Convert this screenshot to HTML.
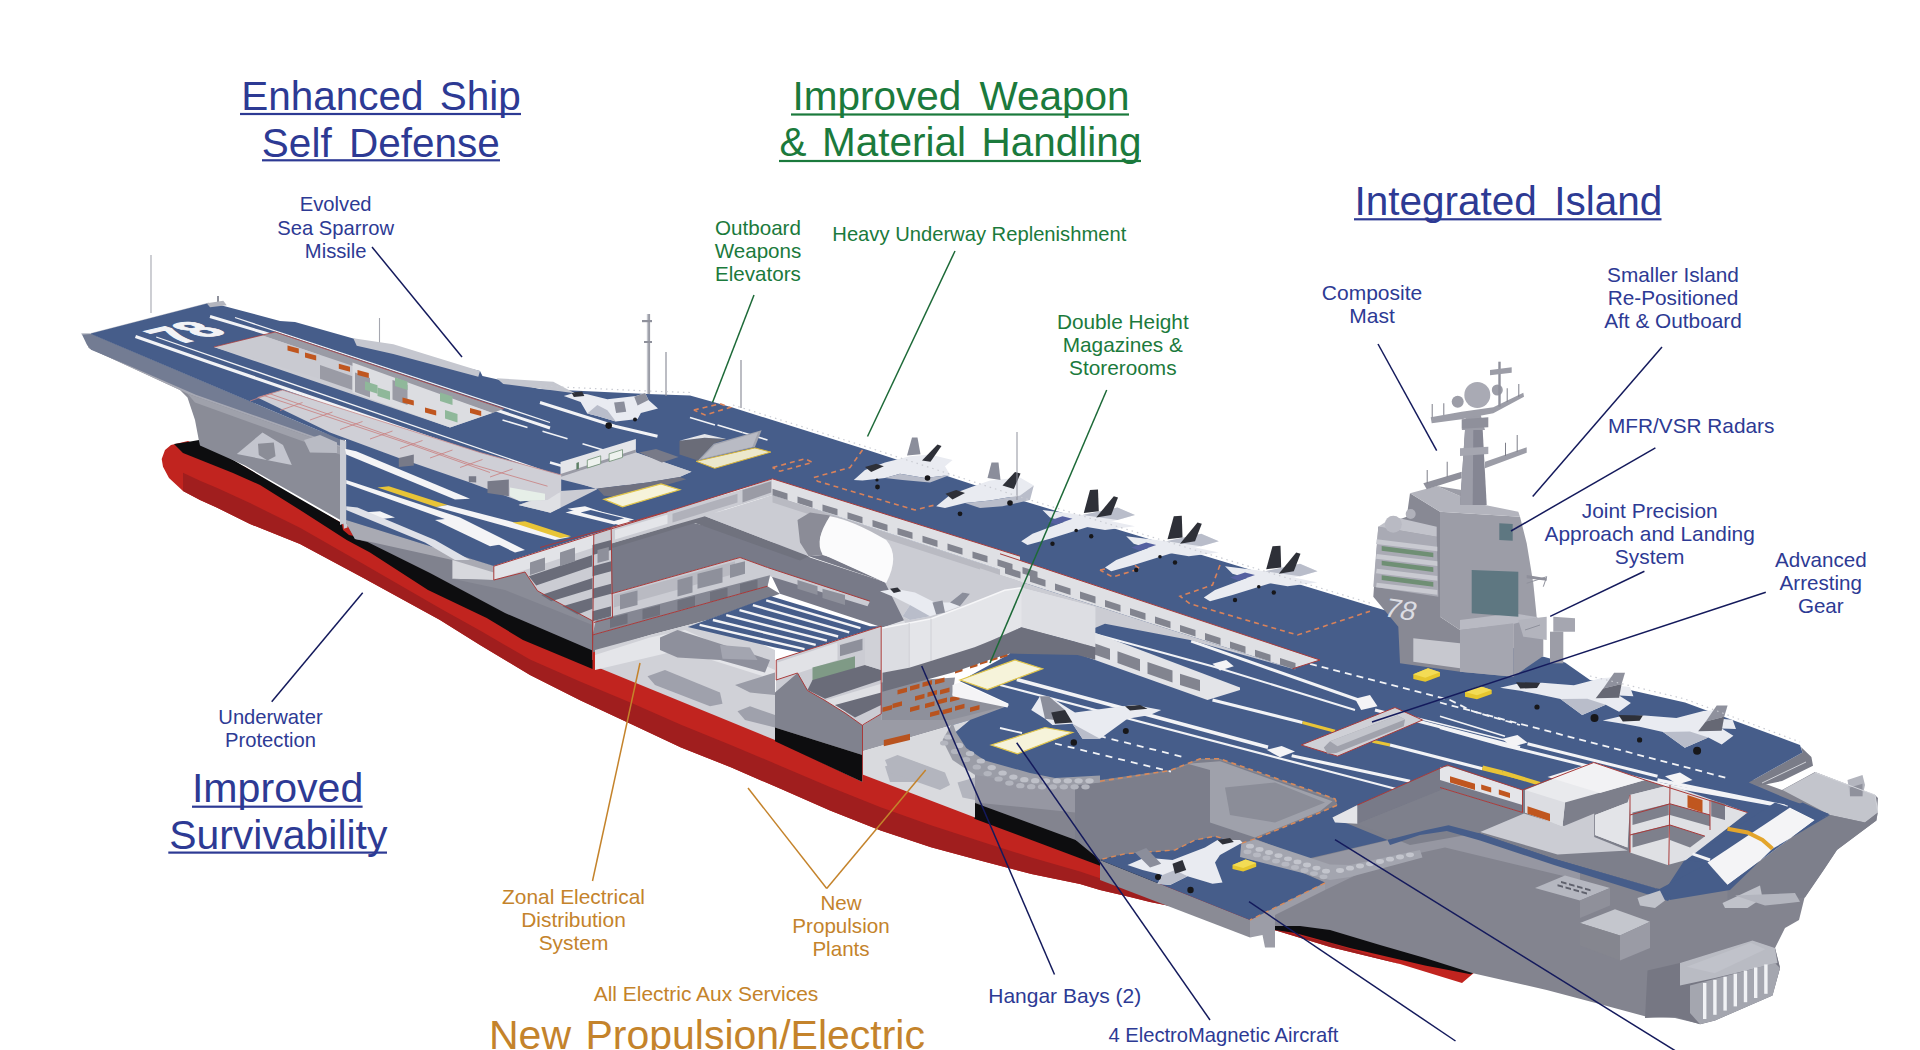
<!DOCTYPE html>
<html lang="en"><head><meta charset="utf-8"><title>CVN 78 Design Features</title>
<style>
html,body{margin:0;padding:0;background:#fff;}
body{width:1920px;height:1050px;overflow:hidden;position:relative;}
svg{display:block;position:absolute;left:0;top:0;}
svg text{font-family:"Liberation Sans",Arial,sans-serif;}
</style></head><body>
<svg width="1920" height="1050" viewBox="0 0 1920 1050">
<rect width="1920" height="1050" fill="#ffffff"/>
<polygon points="171.0,445.0 188.0,441.0 205.0,449.0 245.0,467.0 290.0,495.0 340.0,522.0 400.0,552.0 470.0,588.0 540.0,620.0 595.0,645.0 700.0,690.0 780.0,726.0 862.0,757.0 975.0,800.0 1100.0,850.0 1200.0,885.0 1285.0,922.0 1350.0,942.0 1425.0,958.0 1475.0,972.0 1462.0,983.0 1400.0,964.0 1331.0,947.3 1276.0,930.6 1200.0,912.0 1150.0,902.0 1130.0,897.0 1100.0,890.0 1080.0,884.0 1031.4,874.0 981.0,860.7 931.0,847.3 880.6,830.5 830.0,810.4 780.0,788.6 731.4,767.5 681.0,747.4 631.0,724.0 580.6,700.5 530.0,675.0 480.0,645.0 440.0,620.0 362.5,577.5 300.0,544.0 250.0,524.0 216.7,507.5 200.0,500.0 183.0,491.0 169.0,478.0 163.0,466.7 161.7,459.0 165.0,450.0" fill="#c1241f"/>
<polygon points="183.0,491.0 200.0,500.0 216.7,507.5 250.0,524.0 300.0,544.0 362.5,577.5 440.0,620.0 480.0,645.0 530.0,675.0 580.6,700.5 631.0,724.0 681.0,747.4 731.4,767.5 780.0,788.6 830.0,810.4 880.6,830.5 931.0,847.3 981.0,860.7 1031.4,874.0 1080.0,884.0 1100.0,890.0 1130.0,897.0 1150.0,902.0 1200.0,912.0 1276.0,930.6 1331.0,947.3 1400.0,964.0 1331.0,943.3 1276.0,929.8 1200.0,907.1 1150.0,893.4 1130.0,887.2 1100.0,878.3 1080.0,871.6 1031.4,857.5 981.0,841.4 931.0,825.3 880.6,807.3 830.0,787.0 780.0,765.7 731.4,745.2 681.0,724.8 631.0,702.8 580.6,681.8 530.0,659.6 480.0,630.5 440.0,608.3 362.5,563.6 300.0,527.7 250.0,503.1 216.7,487.8 200.0,480.7 183.0,472.8" fill="#a01e1e"/>
<polygon points="174.0,444.0 187.5,442.0 199.0,440.0 241.7,465.0 300.0,499.0 341.7,523.0 343.0,530.0 349.0,535.0 367.5,539.0 430.0,570.0 505.0,610.0 592.5,648.0 592.5,669.0 565.0,657.5 523.0,640.0 486.7,618.0 428.0,590.0 370.0,552.5 346.7,540.0 300.0,510.0 260.0,485.0 233.0,473.0 208.0,463.0 183.0,453.0" fill="#0d0d0f"/>
<polygon points="773.0,722.0 862.0,757.0 862.0,775.0 773.0,738.0" fill="#0d0d0f"/>
<polygon points="974.4,800.0 1100.0,846.0 1160.0,868.0 1160.0,887.0 1100.0,865.7 974.4,818.8" fill="#0d0d0f"/>
<polygon points="1275.0,922.5 1325.0,925.5 1425.0,957.0 1475.0,972.0 1470.5,974.2 1425.0,965.5 1350.0,948.0 1295.0,933.0 1275.0,930.0" fill="#0d0d0f"/>
<polygon points="85.0,338.8 88.8,348.0 180.0,390.0 187.5,397.5 195.0,420.0 198.8,440.0 200.0,445.5 245.0,465.5 341.2,520.5 345.0,527.5 345.0,440.0 187.5,385.0" fill="#8a8c97"/>
<polygon points="83.0,333.8 85.0,338.8 88.8,348.0 180.0,390.0 187.5,393.8 341.2,448.0 341.2,440.0 187.5,385.0" fill="#a6a8b3"/>
<polygon points="81.5,333.5 91.0,333.5 340.0,439.5 341.0,446.0 195.8,394.8 128.7,365.5 91.0,349.7 86.8,344.5" fill="#737c93"/>
<polyline points="81.5,333.8 91.0,333.5 209.0,303.0" fill="none" stroke="#c9cbd2" stroke-width="1.2"/>
<polygon points="187.5,393.8 341.2,448.0 341.2,455.0 195.0,402.5" fill="#9fa1ab"/>
<polygon points="236.8,454.0 262.5,432.5 283.0,445.0 291.8,465.0" fill="#c3c5ce"/>
<polygon points="304.0,440.0 320.0,435.0 337.0,442.5 337.0,453.0 310.0,452.5" fill="#b9bbc4"/>
<polygon points="258.0,443.8 273.8,442.5 275.5,456.2 267.5,460.5 258.8,455.0" fill="#8b8d97"/>
<polygon points="341.2,440.0 347.5,442.5 347.5,527.5 343.8,528.8" fill="#c9ccd4"/>
<polygon points="346.2,519.5 493.8,565.8 493.8,580.0 525.0,572.0 537.5,590.8 555.0,600.8 592.5,620.8 592.5,650.5 505.0,613.0 430.0,573.0 367.5,542.0 355.0,539.0 346.2,523.0" fill="#80828e"/>
<polygon points="346.2,519.5 493.8,565.8 493.8,580.0 452.5,578.8 452.5,560.0 367.5,541.2 355.0,539.0 346.2,523.0" fill="#a9aab3"/>
<polygon points="452.5,560.0 493.8,572.5 493.8,580.0 452.5,578.8" fill="#d7d8dd"/>
<polygon points="452.5,578.8 493.8,580.0 525.0,572.0 537.5,590.8 555.0,600.8 592.5,620.8 592.5,625.0 505.0,590.0" fill="#8a8c97"/>
<polygon points="975.0,772.0 975.0,803.0 1100.0,849.0 1160.0,871.0 1200.0,886.0 1272.0,926.0 1300.0,926.0 1330.0,930.0 1380.0,945.0 1425.0,958.0 1473.0,973.3 1546.7,990.0 1596.7,1003.3 1646.7,1016.7 1675.0,1018.0 1700.0,1024.0 1715.0,1020.0 1772.0,995.0 1780.0,968.0 1775.0,948.0 1785.0,928.0 1799.0,920.0 1804.5,897.7 1823.4,870.0 1837.0,849.7 1876.5,820.5 1878.0,798.0 1875.0,795.0 1815.0,772.0 1782.0,790.0 1700.0,760.0 1400.0,700.0 1100.0,720.0" fill="#83848f"/>
<polygon points="975.0,772.5 1100.0,782.5 1170.0,771.2 1200.0,760.0 1220.0,760.0 1335.0,800.0 1337.5,805.5 1320.0,813.0 1255.0,839.2 1307.5,859.5 1387.5,840.5 1445.0,827.0 1580.0,860.0 1580.0,880.0 1445.0,847.5 1387.5,860.0 1325.0,890.0 1325.0,882.5 1250.0,850.0 1100.0,815.0 975.0,802.5" fill="#9697a2"/>
<polygon points="1782.5,790.0 1815.0,772.5 1875.0,795.0 1878.0,812.5 1865.0,822.5 1830.0,815.0" fill="#c3c5cc"/>
<polygon points="1801.0,747.0 1811.4,757.0 1813.0,765.7 1782.0,781.0 1758.0,786.0 1748.8,782.5 1802.5,752.5" fill="#7a7c88"/>
<polyline points="1806.0,762.0 1762.0,783.0" fill="none" stroke="#d0d2d8" stroke-width="1"/>
<polygon points="1830.0,815.0 1865.0,822.5 1878.0,812.5 1876.2,820.5 1837.0,850.0 1823.8,870.0 1805.0,897.5 1727.5,905.0 1727.5,887.5 1772.5,848.8" fill="#7d7f8b"/>
<polygon points="1647.5,970.5 1680.0,963.0 1752.5,940.5 1775.0,948.0 1780.0,968.0 1772.5,995.5 1715.0,1020.5 1700.0,1024.2 1675.0,1016.8 1645.0,1018.0" fill="#767783"/>
<polygon points="1680.0,963.0 1752.5,940.5 1775.0,948.0 1777.5,963.0 1715.0,978.0 1680.0,985.5" fill="#b9bbc3"/>
<polygon points="1690.0,985.5 1775.0,963.0 1780.0,968.0 1772.5,995.5 1715.0,1020.5 1700.0,1024.2 1690.0,1013.0" fill="#a4a6af"/>
<polygon points="1535.0,888.0 1565.0,875.5 1610.0,888.0 1580.0,900.5" fill="#b5b7c0"/>
<polygon points="1580.0,900.5 1610.0,888.0 1610.0,905.5 1580.0,918.0" fill="#8f909a"/>
<polygon points="1580.0,923.0 1615.0,909.2 1650.0,921.8 1620.0,935.5" fill="#c4c6cd"/>
<polygon points="1620.0,935.5 1650.0,921.8 1650.0,948.0 1620.0,960.5" fill="#9a9ba5"/>
<polygon points="1580.0,923.0 1620.0,935.5 1620.0,960.5 1580.0,945.5" fill="#85868f"/>
<polygon points="1100.0,860.0 1250.0,920.0 1250.0,937.5 1100.0,880.0" fill="#8a8b95"/>
<polygon points="1250.0,920.0 1325.0,882.5 1325.0,890.0 1275.0,915.0 1275.0,947.5 1265.0,947.5 1262.5,935.0 1250.0,937.5" fill="#9c9da7"/>
<polygon points="1100.0,860.0 1125.0,853.8 1175.0,850.0 1195.0,840.0 1215.0,836.2 1240.0,843.8 1250.0,850.0 1325.0,882.5 1250.0,920.0" fill="#465d8a"/>
<polygon points="1100.0,782.5 1170.0,771.2 1200.0,760.0 1220.0,760.0 1335.0,800.0 1337.5,805.5 1320.0,813.0 1255.0,839.2 1240.0,843.8 1215.0,836.2 1195.0,840.0 1175.0,850.0 1125.0,853.8 1100.0,860.0 1075.0,839.5 1075.0,785.0" fill="#7c7e8b"/>
<polygon points="1187.5,763.8 1220.0,761.2 1332.5,801.2 1320.0,811.2 1255.0,837.5 1210.0,822.5 1210.0,770.0" fill="#9fa1ab"/>
<polygon points="1225.0,787.5 1275.0,782.5 1325.0,802.5 1275.0,822.5 1230.0,815.0" fill="#8b8d98"/>
<polygon points="91.0,333.5 209.0,303.0 220.0,305.0 280.0,321.0 295.0,322.0 355.0,339.0 360.0,344.0 445.0,362.5 480.0,371.0 482.5,376.0 540.0,389.0 647.5,394.0 690.0,395.5 715.0,402.5 732.5,407.5 867.5,450.0 1020.0,500.0 1373.0,606.7 1537.0,655.0 1565.0,662.5 1590.0,680.0 1630.0,690.0 1685.0,702.5 1800.0,745.0 1802.5,752.5 1748.8,782.5 1790.0,800.0 1828.8,813.8 1770.0,850.0 1727.5,886.2 1670.0,899.0 1655.0,888.0 1557.5,860.5 1450.0,824.2 1445.0,826.2 1387.5,840.0 1307.5,858.8 1255.0,838.8 1320.0,812.5 1337.5,805.0 1335.0,798.8 1220.0,758.8 1200.0,758.8 1170.0,770.0 1100.0,780.0 1055.0,785.0 1030.0,780.0 975.0,772.5 952.5,757.5 942.5,740.0 952.5,722.5 1008.8,703.8 960.0,681.2 1010.0,653.8 772.5,478.8 667.5,511.8 607.5,530.0 493.8,566.0 346.0,520.0 346.0,440.0 340.0,439.5 91.0,334.0" fill="#465d8a"/>
<polygon points="340.0,439.5 346.2,441.2 346.2,522.5 340.0,525.0" fill="#c9ccd4"/>
<polyline points="210.0,316.5 265.0,333.0 550.0,428.0" fill="none" stroke="#f2f3f6" stroke-width="3"/>
<polyline points="235.0,317.5 550.0,422.5" fill="none" stroke="#f2f3f6" stroke-width="1.3"/>
<polyline points="135.5,336.5 210.0,362.5 320.0,400.2 445.0,443.0 550.0,478.5" fill="none" stroke="#f2f3f6" stroke-width="3.2"/>
<polyline points="156.2,337.0 550.0,473.0" fill="none" stroke="#f2f3f6" stroke-width="1.3"/>
<polyline points="550.0,462.5 637.5,487.5" fill="none" stroke="#f2f3f6" stroke-width="2.4"/>
<polyline points="540.0,402.5 615.0,426.2 657.5,436.2" fill="none" stroke="#f2f3f6" stroke-width="3"/>
<polyline points="502.5,420.0 527.5,427.5" fill="none" stroke="#f2f3f6" stroke-width="1.6"/>
<polyline points="542.5,431.2 567.5,438.8" fill="none" stroke="#f2f3f6" stroke-width="1.6"/>
<polyline points="582.5,443.8 607.5,451.2" fill="none" stroke="#f2f3f6" stroke-width="1.6"/>
<polyline points="622.5,453.8 647.5,461.2" fill="none" stroke="#f2f3f6" stroke-width="1.6"/>
<polyline points="690.0,417.5 715.0,425.0" fill="none" stroke="#f2f3f6" stroke-width="1.6"/>
<polyline points="717.5,425.0 742.5,432.5" fill="none" stroke="#f2f3f6" stroke-width="1.6"/>
<polyline points="742.5,432.5 767.5,440.0" fill="none" stroke="#f2f3f6" stroke-width="1.6"/>
<text font-size="56" font-weight="bold" fill="#f2f3f6" stroke="#f2f3f6" stroke-width="2" transform="matrix(0.80,-0.186,0.97,0.316,179.5,344)">78</text>
<polygon points="345.0,448.8 356.2,451.2 470.0,498.8 455.0,499.5 346.2,454.5" fill="#f4f4f6"/>
<polygon points="377.5,487.5 388.8,486.2 447.5,505.0 436.2,507.0" fill="#e8c437"/>
<polygon points="447.5,505.0 436.2,507.0 555.0,540.0 570.0,537.0" fill="#f4f4f6"/>
<polygon points="512.5,522.5 525.0,521.2 571.2,536.2 560.0,538.0" fill="#e8c437"/>
<polygon points="346.2,480.0 460.0,517.5 525.0,550.0 515.0,552.5 447.5,520.0 346.2,483.8" fill="#f4f4f6"/>
<polygon points="362.5,512.5 380.0,511.2 395.0,517.5 377.5,519.5" fill="#f4f4f6"/>
<polygon points="435.0,520.0 447.5,518.8 505.0,543.8 490.0,546.2" fill="#f4f4f6"/>
<polygon points="346.2,506.2 357.5,507.5 435.0,540.0 470.0,560.0 455.0,560.0 425.0,542.5 346.2,510.0" fill="#dfe1e8"/>
<polygon points="567.5,508.8 585.0,506.2 640.0,525.0 622.5,526.2" fill="#f4f4f6"/>
<polygon points="580.0,515.0 630.0,530.0 625.0,532.0 576.2,517.5" fill="#465d8a"/>
<polyline points="1212.5,700.0 1302.5,722.5" fill="none" stroke="#f2f3f6" stroke-width="3.2"/>
<polyline points="1302.5,722.5 1335.0,731.2" fill="none" stroke="#e8c437" stroke-width="3.2"/>
<polyline points="1372.5,741.2 1390.0,745.0" fill="none" stroke="#e8c437" stroke-width="3.2"/>
<polyline points="1390.0,745.0 1482.5,768.8" fill="none" stroke="#f2f3f6" stroke-width="3.2"/>
<polyline points="1482.5,768.8 1520.0,778.0" fill="none" stroke="#e8c437" stroke-width="3.2"/>
<polyline points="1191.2,641.2 1360.0,700.5" fill="none" stroke="#f2f3f6" stroke-width="3"/>
<polygon points="1212.5,663.8 1226.2,660.0 1233.8,666.2 1220.0,670.5" fill="#f4f4f6"/>
<polygon points="1355.0,698.8 1370.0,695.0 1377.5,706.2 1361.2,710.0" fill="#f4f4f6"/>
<polyline points="1088.8,632.5 1215.0,667.0 1355.0,710.0" fill="none" stroke="#f2f3f6" stroke-width="2"/>
<polyline points="1375.0,710.0 1520.0,747.5" fill="none" stroke="#f2f3f6" stroke-width="3"/>
<polyline points="1415.0,717.5 1520.0,743.8" fill="none" stroke="#f2f3f6" stroke-width="1.6"/>
<polyline points="1310.0,663.8 1450.0,700.0 1472.5,711.2 1520.0,725.0" fill="none" stroke="#f2f3f6" stroke-width="1.8" stroke-dasharray="7 5"/>
<polyline points="1440.0,727.5 1502.5,745.0 1665.0,785.0 1787.5,807.0" fill="none" stroke="#f2f3f6" stroke-width="3"/>
<polygon points="1502.5,738.8 1517.5,735.0 1527.5,742.5 1511.2,747.0" fill="#f4f4f6"/>
<polyline points="1527.5,743.8 1657.5,776.2" fill="none" stroke="#f2f3f6" stroke-width="3"/>
<polyline points="1482.5,767.5 1502.5,772.5" fill="none" stroke="#e8c437" stroke-width="4"/>
<polyline points="1502.5,772.5 1540.0,783.8" fill="none" stroke="#e8c437" stroke-width="4"/>
<polyline points="1440.0,716.2 1505.0,736.2" fill="none" stroke="#f2f3f6" stroke-width="1.6"/>
<polyline points="1440.0,702.5 1515.0,722.5 1730.0,778.8" fill="none" stroke="#f2f3f6" stroke-width="1.8" stroke-dasharray="7 5"/>
<polyline points="1657.5,780.0 1785.0,806.2" fill="none" stroke="#f2f3f6" stroke-width="3.4"/>
<polygon points="1665.0,776.2 1680.0,772.5 1692.5,780.0 1677.5,784.5" fill="#f4f4f6"/>
<polyline points="1220.0,565.0 1212.5,585.0 1180.0,596.2 1190.0,603.8 1297.5,635.0 1370.0,611.2" fill="none" stroke="#d9825a" stroke-width="1.6" stroke-dasharray="5 4"/>
<polyline points="1100.0,570.0 1132.5,563.8 1140.0,568.8 1112.5,577.0 1100.0,570.0" fill="none" stroke="#d9825a" stroke-width="1.6" stroke-dasharray="5 4"/>
<polyline points="862.5,450.0 850.0,467.5 813.8,477.5 817.5,481.2 915.0,510.0 935.0,505.0" fill="none" stroke="#d9825a" stroke-width="1.6" stroke-dasharray="5 4"/>
<polyline points="772.5,467.5 805.0,458.8 812.5,462.5 780.0,471.2 772.5,467.5" fill="none" stroke="#d9825a" stroke-width="1.6" stroke-dasharray="5 4"/>
<polyline points="693.8,410.0 720.0,403.8 730.0,407.5 705.0,415.0 693.8,410.0" fill="none" stroke="#d9825a" stroke-width="1.6" stroke-dasharray="5 4"/>
<polyline points="1016.8,679.4 1268.0,747.3" fill="none" stroke="#f2f3f6" stroke-width="3.6"/>
<polygon points="1266.5,749.8 1281.6,746.0 1295.0,751.5 1280.0,757.3" fill="#f4f4f6"/>
<polyline points="1291.7,755.7 1410.0,781.3" fill="none" stroke="#f2f3f6" stroke-width="3.2"/>
<polyline points="1000.0,685.0 1320.0,769.0 1400.0,790.0" fill="none" stroke="#f2f3f6" stroke-width="2.2"/>
<polyline points="1098.9,735.9 1184.4,757.3" fill="none" stroke="#f2f3f6" stroke-width="1.8" stroke-dasharray="7 6"/>
<polyline points="1000.0,728.0 1022.0,733.0" fill="none" stroke="#f2f3f6" stroke-width="1.8"/>
<polyline points="1055.0,743.5 1171.0,771.6" fill="none" stroke="#f2f3f6" stroke-width="1.8" stroke-dasharray="7 6"/>
<polygon points="493.8,566.2 593.8,533.8 611.2,528.8 611.2,625.0 592.5,630.0 592.5,620.8 555.0,600.8 537.5,590.8 525.0,572.0 493.8,580.0" fill="#cbccd3"/>
<polygon points="493.8,566.2 593.8,533.8 593.8,547.5 525.0,570.0 493.8,580.0" fill="#e2e3e7"/>
<polygon points="528.8,576.2 592.5,555.0 592.5,566.2 536.2,585.5" fill="#6a6c79"/>
<polygon points="541.2,595.0 592.5,578.0 592.5,588.8 551.2,601.2" fill="#6a6c79"/>
<polygon points="562.5,606.2 592.5,597.5 592.5,608.8 577.5,614.5" fill="#6a6c79"/>
<polygon points="592.5,545.0 611.2,540.0 611.2,550.0 592.5,555.0" fill="#6a6c79"/>
<polygon points="592.5,566.2 611.2,561.2 611.2,571.2 592.5,576.2" fill="#6a6c79"/>
<polygon points="592.5,588.8 611.2,583.8 611.2,593.8 592.5,598.8" fill="#6a6c79"/>
<polygon points="592.5,611.2 611.2,606.2 611.2,616.2 592.5,621.2" fill="#6a6c79"/>
<polygon points="530.0,562.5 545.0,557.5 545.0,570.0 530.0,575.0" fill="#8e909b"/>
<polygon points="560.0,552.5 575.0,547.5 575.0,561.2 560.0,566.2" fill="#8e909b"/>
<polygon points="597.5,550.0 608.8,547.0 608.8,560.0 597.5,563.0" fill="#8e909b"/>
<polygon points="611.2,543.8 670.0,527.5 690.0,522.0 795.0,547.5 810.0,557.5 882.5,581.2 950.0,605.0 932.5,618.8 882.5,627.5 780.0,593.8 767.5,567.5 740.0,557.5 611.2,593.8" fill="#787a88"/>
<polygon points="670.0,510.0 810.0,510.0 796.2,532.5 801.2,545.0 795.0,548.0 690.0,522.0 670.0,527.5" fill="#cbccd3"/>
<polygon points="700.0,510.0 800.0,510.0 797.5,525.0 735.0,515.0" fill="#e4e5e9"/>
<polygon points="611.2,593.8 740.0,557.5 767.5,567.5 870.0,601.2 867.5,606.2 770.0,576.2 767.5,586.2 611.2,630.0 592.5,635.0 592.5,630.0 611.2,625.0" fill="#cbccd3"/>
<polygon points="613.8,595.0 735.0,561.2 735.0,573.8 613.8,607.5" fill="#b9bac2"/>
<polygon points="620.0,595.0 637.5,590.5 637.5,605.0 620.0,609.5" fill="#8e909b"/>
<polygon points="677.5,580.0 692.5,576.0 692.5,592.5 677.5,596.5" fill="#8e909b"/>
<polygon points="697.5,573.8 722.5,567.5 722.5,582.5 697.5,588.8" fill="#8e909b"/>
<polygon points="730.0,565.0 745.0,561.2 745.0,573.8 730.0,578.0" fill="#8e909b"/>
<polygon points="797.5,580.0 817.5,586.2 817.5,595.0 797.5,588.8" fill="#8e909b"/>
<polygon points="822.5,588.8 845.0,595.0 845.0,605.0 822.5,598.0" fill="#8e909b"/>
<polygon points="595.8,620.5 770.0,575.2 767.5,586.2 592.5,635.0" fill="#858793"/>
<polygon points="610.0,618.0 627.5,613.5 627.5,623.5 610.0,628.0" fill="#6f717d"/>
<polygon points="642.5,609.5 660.0,605.0 660.0,615.0 642.5,619.5" fill="#6f717d"/>
<polygon points="677.5,600.5 695.0,596.0 695.0,606.0 677.5,610.5" fill="#6f717d"/>
<polygon points="710.0,592.0 727.5,587.5 727.5,597.5 710.0,602.0" fill="#6f717d"/>
<polygon points="740.0,584.0 757.5,579.5 757.5,589.5 740.0,594.0" fill="#6f717d"/>
<polygon points="592.5,635.0 767.5,586.2 780.0,593.8 707.5,620.0 650.0,635.0 592.5,652.5" fill="#7b7d89"/>
<polygon points="595.0,650.0 650.0,635.0 707.5,620.0 775.0,650.0 775.0,740.0 595.0,666.2" fill="#d0d1d7"/>
<polygon points="595.0,655.0 650.0,637.5 685.0,630.0 775.0,670.0 775.0,680.0 680.0,650.0 595.0,670.0" fill="#e4e5e9"/>
<polygon points="660.0,637.5 677.5,630.0 770.0,660.0 765.0,672.5 720.0,660.0 677.5,657.5 660.0,650.0" fill="#8e909c"/>
<polygon points="720.0,645.0 750.0,647.5 757.5,660.0 722.5,658.8" fill="#a3a5b0"/>
<polygon points="647.5,676.2 665.0,670.0 720.0,692.5 722.5,703.8 710.0,706.2 655.0,685.0" fill="#9fa1ac"/>
<polygon points="737.5,711.2 750.0,706.2 775.0,715.0 775.0,727.5 745.0,720.0" fill="#9fa1ac"/>
<polygon points="735.0,685.0 775.0,672.5 775.0,695.0 750.0,692.5" fill="#9a9ca7"/>
<polygon points="687.8,627.0 771.0,596.2 870.0,626.2 881.2,626.2 837.5,640.0 800.0,652.5 775.0,647.5" fill="#465d8a"/>
<polyline points="699.6,624.9 804.5,649.1" fill="none" stroke="#f4f4f6" stroke-width="2.4"/>
<polyline points="712.9,620.0 815.7,644.9" fill="none" stroke="#f4f4f6" stroke-width="2.4"/>
<polyline points="726.2,615.1 826.9,640.7" fill="none" stroke="#f4f4f6" stroke-width="2.4"/>
<polyline points="739.5,610.2 838.1,636.5" fill="none" stroke="#f4f4f6" stroke-width="2.4"/>
<polyline points="752.9,605.2 849.3,632.3" fill="none" stroke="#f4f4f6" stroke-width="2.4"/>
<polyline points="766.2,600.3 860.5,628.1" fill="none" stroke="#f4f4f6" stroke-width="2.4"/>
<polygon points="776.2,660.0 881.2,626.2 881.2,713.8 862.5,725.0 862.5,782.0 775.0,740.0" fill="#cbccd3"/>
<polygon points="775.0,692.5 797.5,673.0 807.5,690.5 825.0,700.5 845.0,713.0 862.5,725.5 862.5,755.0 775.0,727.5" fill="#80828e"/>
<polygon points="775.0,727.5 862.5,755.0 862.5,782.0 775.0,741.2" fill="#0d0d0f"/>
<polygon points="777.5,662.5 837.5,642.5 837.5,660.0 777.5,680.0" fill="#e1e2e6"/>
<polygon points="812.5,667.5 855.0,656.2 855.0,672.5 812.5,685.0" fill="#7f9a86"/>
<polygon points="812.5,680.0 865.0,665.0 881.2,670.0 881.2,680.0 825.0,698.8 807.5,690.0" fill="#6a6c79"/>
<polygon points="825.0,700.5 881.2,683.8 881.2,695.0 845.0,712.5" fill="#dfe0e4"/>
<polygon points="835.0,705.0 881.2,692.5 881.2,705.0 855.0,717.5" fill="#6a6c79"/>
<polygon points="837.5,640.0 881.2,626.2 881.2,670.0 865.0,665.0 865.0,637.5 837.5,645.0" fill="#d0d1d7"/>
<polygon points="840.0,645.0 862.5,638.8 862.5,650.0 840.0,656.2" fill="#8e909b"/>
<polygon points="882.5,627.5 950.0,605.0 1025.0,580.0 1025.0,602.5 1000.0,640.0 920.0,667.5 882.5,672.5" fill="#e4e5e9"/>
<polygon points="882.5,627.5 908.8,620.0 908.8,667.5 882.5,672.5" fill="#dcdde2"/>
<polygon points="950.0,605.0 1025.0,580.0 1025.0,591.2 950.0,616.2" fill="#f2f2f4"/>
<polygon points="881.2,682.5 955.0,677.5 952.5,695.0 1008.8,705.0 952.5,722.5 920.0,732.5 881.2,720.0" fill="#8e909b"/>
<polygon points="862.5,725.5 881.2,713.8 881.2,720.0 950.0,720.0 1010.0,705.0 970.0,720.0 862.5,751.2" fill="#9a9ba5"/>
<polygon points="862.5,751.2 970.0,720.0 955.0,732.5 952.5,757.5 975.0,775.0 975.0,817.5 862.5,774.5" fill="#d9dade"/>
<polygon points="885.0,766.2 910.0,760.0 930.0,767.5 930.0,782.0 890.0,782.0" fill="#b3b5be"/>
<polygon points="897.5,690.0 907.0,687.5 907.0,692.0 897.5,694.5" fill="#b8531f"/>
<polygon points="910.0,686.2 919.5,683.8 919.5,688.2 910.0,690.8" fill="#b8531f"/>
<polygon points="922.5,682.5 932.0,680.0 932.0,684.5 922.5,687.0" fill="#b8531f"/>
<polygon points="935.0,680.0 944.5,677.5 944.5,682.0 935.0,684.5" fill="#b8531f"/>
<polygon points="915.0,696.2 924.5,693.8 924.5,698.2 915.0,700.8" fill="#b8531f"/>
<polygon points="927.5,692.5 937.0,690.0 937.0,694.5 927.5,697.0" fill="#b8531f"/>
<polygon points="940.0,690.0 949.5,687.5 949.5,692.0 940.0,694.5" fill="#b8531f"/>
<polygon points="910.0,707.5 919.5,705.0 919.5,709.5 910.0,712.0" fill="#b8531f"/>
<polygon points="925.0,703.8 934.5,701.2 934.5,705.8 925.0,708.2" fill="#b8531f"/>
<polygon points="937.5,700.0 947.0,697.5 947.0,702.0 937.5,704.5" fill="#b8531f"/>
<polygon points="950.0,697.5 959.5,695.0 959.5,699.5 950.0,702.0" fill="#b8531f"/>
<polygon points="930.0,712.5 939.5,710.0 939.5,714.5 930.0,717.0" fill="#b8531f"/>
<polygon points="942.5,710.0 952.0,707.5 952.0,712.0 942.5,714.5" fill="#b8531f"/>
<polygon points="955.0,706.2 964.5,703.8 964.5,708.2 955.0,710.8" fill="#b8531f"/>
<polygon points="970.0,707.5 979.5,705.0 979.5,709.5 970.0,712.0" fill="#b8531f"/>
<polygon points="882.5,707.5 892.0,705.0 892.0,709.5 882.5,712.0" fill="#b8531f"/>
<polygon points="892.5,703.8 902.0,701.2 902.0,705.8 892.5,708.2" fill="#b8531f"/>
<polygon points="970.0,665.0 977.5,662.8 977.5,666.2 970.0,668.5" fill="#b8531f"/>
<polygon points="980.0,661.2 987.5,659.0 987.5,662.5 980.0,664.8" fill="#b8531f"/>
<polygon points="990.0,658.0 997.5,655.8 997.5,659.2 990.0,661.5" fill="#b8531f"/>
<polygon points="1000.0,655.0 1007.5,652.8 1007.5,656.2 1000.0,658.5" fill="#b8531f"/>
<polygon points="955.0,670.0 962.5,667.8 962.5,671.2 955.0,673.5" fill="#b8531f"/>
<polygon points="883.8,740.0 910.0,733.8 910.0,740.0 883.8,746.2" fill="#b8531f"/>
<polygon points="885.0,760.0 897.5,755.0 945.0,772.5 950.0,785.0 940.0,790.0 890.0,772.5" fill="#b3b5be"/>
<polygon points="957.5,782.5 975.0,777.5 975.0,800.0 962.5,797.5" fill="#b3b5be"/>
<polygon points="611.2,527.5 668.8,511.2 740.0,490.0 772.5,478.8 772.5,495.0 740.0,505.0 670.0,526.2 611.2,543.8" fill="#cbccd3"/>
<polygon points="615.0,530.0 667.5,514.5 667.5,523.8 615.0,539.5" fill="#e4e5e9"/>
<polygon points="672.5,513.8 737.5,493.8 737.5,502.5 672.5,522.5" fill="#b0b1ba"/>
<polygon points="742.5,490.0 771.2,481.2 771.2,492.5 742.5,502.5" fill="#9a9ba5"/>
<polygon points="808.8,556.2 822.5,555.0 895.0,575.0 887.5,583.0 882.5,581.2" fill="#787a88"/>
<polygon points="611.2,543.8 670.0,526.2 705.0,516.2 808.8,556.2 800.0,560.5 695.0,523.0 612.5,548.0" fill="#70727e"/>
<polygon points="705.0,516.2 772.5,495.0 1020.0,576.2 1020.0,642.5 915.0,642.5 885.0,582.5 822.5,553.8 808.8,556.2" fill="#cbccd3"/>
<polygon points="772.5,495.0 1020.0,576.2 1020.0,582.5 772.5,502.5" fill="#b9bac2"/>
<polygon points="772.5,478.8 1020.0,556.2 1020.0,576.2 772.5,495.0" fill="#dfe0e4"/>
<polygon points="1000.0,553.8 1320.0,660.0 1292.5,668.8 1000.0,575.0" fill="#dfe0e4"/>
<polygon points="772.5,488.8 787.5,493.5 787.5,500.0 772.5,495.2" fill="#82848f"/>
<polygon points="797.5,496.6 812.5,501.3 812.5,507.8 797.5,503.1" fill="#82848f"/>
<polygon points="822.5,504.4 837.5,509.1 837.5,515.6 822.5,510.9" fill="#82848f"/>
<polygon points="847.5,512.2 862.5,517.0 862.5,523.5 847.5,518.7" fill="#82848f"/>
<polygon points="872.5,520.0 887.5,524.8 887.5,531.3 872.5,526.5" fill="#82848f"/>
<polygon points="897.5,527.9 912.5,532.6 912.5,539.1 897.5,534.4" fill="#82848f"/>
<polygon points="922.5,535.7 937.5,540.5 937.5,547.0 922.5,542.2" fill="#82848f"/>
<polygon points="947.5,543.5 962.5,548.3 962.5,554.8 947.5,550.0" fill="#82848f"/>
<polygon points="972.5,551.4 987.5,556.1 987.5,562.6 972.5,557.9" fill="#82848f"/>
<polygon points="997.5,559.2 1012.5,563.9 1012.5,570.4 997.5,565.7" fill="#82848f"/>
<polygon points="1022.5,567.0 1037.5,571.8 1037.5,578.2 1022.5,573.5" fill="#82848f"/>
<polygon points="1005.0,566.8 1020.5,571.8 1020.5,578.5 1005.0,573.5" fill="#82848f"/>
<polygon points="1030.0,575.0 1045.5,580.0 1045.5,586.8 1030.0,581.8" fill="#82848f"/>
<polygon points="1055.0,583.4 1070.5,588.4 1070.5,595.1 1055.0,590.1" fill="#82848f"/>
<polygon points="1080.0,591.6 1095.5,596.6 1095.5,603.4 1080.0,598.4" fill="#82848f"/>
<polygon points="1105.0,600.0 1120.5,605.0 1120.5,611.7 1105.0,606.7" fill="#82848f"/>
<polygon points="1130.0,608.2 1145.5,613.2 1145.5,620.0 1130.0,615.0" fill="#82848f"/>
<polygon points="1155.0,616.5 1170.5,621.5 1170.5,628.3 1155.0,623.3" fill="#82848f"/>
<polygon points="1180.0,624.9 1195.5,629.9 1195.5,636.6 1180.0,631.6" fill="#82848f"/>
<polygon points="1205.0,633.1 1220.5,638.1 1220.5,644.9 1205.0,639.9" fill="#82848f"/>
<polygon points="1230.0,641.5 1245.5,646.5 1245.5,653.2 1230.0,648.2" fill="#82848f"/>
<polygon points="1255.0,649.8 1270.5,654.8 1270.5,661.5 1255.0,656.5" fill="#82848f"/>
<polygon points="1280.0,658.0 1295.5,663.0 1295.5,669.8 1280.0,664.8" fill="#82848f"/>
<polygon points="980.0,568.2 1000.0,575.0 1292.5,668.8 1190.0,640.0 1105.0,623.8 1088.8,630.5 1077.5,633.8 1077.5,640.0 1000.0,625.0 980.0,618.8" fill="#cbccd3"/>
<polygon points="980.0,612.5 1000.0,620.0 1077.5,637.5 1077.5,640.0 1000.0,626.2 980.0,620.0" fill="#7c7e8a"/>
<polygon points="797.5,520.0 810.0,512.5 830.0,515.5 820.0,537.5 822.5,555.0 808.8,556.2 800.0,542.5" fill="#8b8c97"/>
<path d="M830.0,516.2 Q852.5,520.0 886.2,540.0 Q900.2,556.2 886.2,583.0 L822.5,554.2 Q814.0,540.0 830.0,516.2 Z" fill="#fbfbfc"/>
<polygon points="1077.5,633.8 1088.8,630.5 1240.0,687.5 1240.0,690.0 1207.5,700.0 1077.5,653.8" fill="#e3e4e8"/>
<polygon points="1085.0,640.0 1110.0,648.8 1110.0,660.0 1085.0,651.2" fill="#82848f"/>
<polygon points="1117.5,651.2 1140.0,659.2 1140.0,671.2 1117.5,663.0" fill="#82848f"/>
<polygon points="1147.5,662.0 1172.5,670.5 1172.5,682.5 1147.5,673.8" fill="#82848f"/>
<polygon points="1180.0,673.8 1200.0,680.0 1200.0,691.2 1180.0,685.0" fill="#82848f"/>
<polygon points="560.1,476.9 635.9,452.4 691.5,471.7 679.5,476.9 647.6,482.6 597.3,488.6 560.5,491.0 547.0,494.3 518.6,504.9 550.4,512.8 560.5,507.7 597.3,489.3" fill="#cbccd3"/>
<polygon points="560.1,476.9 635.9,452.4 691.5,471.7 679.5,476.9 597.3,488.6 560.5,479.2" fill="#cdced5"/>
<polygon points="560.5,462.1 635.9,439.0 635.9,452.4 560.5,476.9" fill="#e4e5e9"/>
<polygon points="560.5,473.9 635.9,449.6 635.9,452.4 560.5,476.9" fill="#9a9ba6"/>
<polygon points="576.4,463.0 578.9,462.1 578.9,468.8 576.4,469.7" fill="#5d7f66"/>
<polygon points="587.3,460.1 600.7,455.8 600.7,463.8 587.3,468.0" fill="#eef2ee" stroke="#6f8f74" stroke-width="0.8"/>
<polygon points="609.1,453.8 622.5,449.6 622.5,457.4 609.1,461.6" fill="#eef2ee" stroke="#6f8f74" stroke-width="0.8"/>
<polygon points="518.6,504.9 560.5,492.0 560.5,507.7 550.4,512.8" fill="#dfe0e4"/>
<polygon points="547.0,480.6 560.5,477.2 560.5,491.5 547.0,494.3" fill="#b9bac2"/>
<polygon points="639.2,452.4 656.0,449.1 678.6,457.1 661.9,462.5" fill="#787a88"/>
<polygon points="597.3,488.6 647.6,482.6 679.5,476.9 686.2,479.2 622.5,497.3 604.0,495.7" fill="#6f7180"/>
<polygon points="679.5,440.7 704.6,437.8 726.4,439.0 713.8,443.7 697.9,460.5 679.5,454.6" fill="#6a6c78"/>
<polygon points="679.5,440.7 704.6,434.0 726.4,439.0 704.6,437.8" fill="#e4e5e9"/>
<polygon points="696.2,461.3 754.9,447.9 770.8,452.1 714.7,468.3" fill="#ece8cc" stroke="#d9b63a" stroke-width="1"/>
<polygon points="697.9,460.5 713.8,443.7 761.6,430.3 754.9,447.0" fill="#a3a5af"/>
<polygon points="701.3,458.8 714.7,445.0 758.2,432.3 752.4,446.7" fill="#b9bbc4"/>
<polygon points="604.0,499.3 661.0,483.9 679.8,489.8 622.5,506.9" fill="#f6f3da" stroke="#e2c64a" stroke-width="1.2"/>
<polygon points="565.5,512.4 583.9,507.4 634.2,519.5 614.1,524.5" fill="#f4f4f6"/>
<polygon points="580.6,512.4 590.6,509.9 624.2,518.3 614.1,521.1" fill="#465d8a"/>
<polygon points="257.5,397.5 282.5,390.0 480.0,452.5 561.2,475.0 561.2,491.2 547.5,500.0 520.0,501.2 470.0,482.5 397.5,457.5 330.0,432.5" fill="#cfcfd6"/>
<polygon points="398.8,458.0 413.8,454.5 413.8,465.5 398.8,467.0" fill="#787a88"/>
<polygon points="487.5,481.2 508.8,479.5 508.8,496.2 487.5,493.0" fill="#787a88"/>
<polygon points="468.8,476.2 476.2,476.2 476.2,482.5 468.8,482.0" fill="#787a88"/>
<polygon points="510.0,487.5 545.0,493.8 545.0,500.0 520.0,501.2 510.0,496.2" fill="#e6efe8"/>
<polyline points="257.5,397.5 282.5,390.0 480.0,452.5 561.2,475.0" fill="none" stroke="#c98a8a" stroke-width="0.8"/>
<polyline points="270.0,393.8 470.0,463.8 547.5,486.2" fill="none" stroke="#c97f7f" stroke-width="0.8"/>
<polyline points="263.8,395.5 405.0,442.5 490.0,472.5" fill="none" stroke="#c97f7f" stroke-width="0.8"/>
<polyline points="272.5,393.0 250.0,401.0" fill="none" stroke="#c97f7f" stroke-width="0.8"/>
<polyline points="302.5,402.5 280.0,410.5" fill="none" stroke="#c97f7f" stroke-width="0.8"/>
<polyline points="332.5,412.0 310.0,420.0" fill="none" stroke="#c97f7f" stroke-width="0.8"/>
<polyline points="362.5,421.5 340.0,429.5" fill="none" stroke="#c97f7f" stroke-width="0.8"/>
<polyline points="392.5,431.0 370.0,439.0" fill="none" stroke="#c97f7f" stroke-width="0.8"/>
<polyline points="422.5,440.5 400.0,448.5" fill="none" stroke="#c97f7f" stroke-width="0.8"/>
<polyline points="452.5,450.0 430.0,458.0" fill="none" stroke="#c97f7f" stroke-width="0.8"/>
<polyline points="482.5,459.5 460.0,467.5" fill="none" stroke="#c97f7f" stroke-width="0.8"/>
<polyline points="512.5,469.0 490.0,477.0" fill="none" stroke="#c97f7f" stroke-width="0.8"/>
<polygon points="213.8,347.0 275.0,332.0 503.8,408.8 450.0,427.5" fill="#cbccd3"/>
<polygon points="262.5,335.5 275.0,332.0 503.8,408.8 492.5,413.0" fill="#9a9ba5"/>
<polygon points="213.8,347.0 262.5,335.5 320.0,355.0 320.0,378.8" fill="#c9cad1"/>
<polygon points="320.0,365.0 352.5,376.2 352.5,390.0 320.0,378.8" fill="#9a9ba5"/>
<polygon points="352.5,362.5 492.5,413.0 450.0,427.5 352.5,392.5" fill="#dcdde1"/>
<polygon points="355.0,372.5 370.0,378.0 370.0,397.5 355.0,392.0" fill="#9a9ba5"/>
<polygon points="392.5,380.0 407.5,385.0 407.5,405.0 392.5,399.5" fill="#9a9ba5"/>
<polygon points="287.5,345.5 298.8,348.5 298.8,353.5 287.5,350.5" fill="#c0561f"/>
<polygon points="305.0,352.5 316.2,355.5 316.2,360.5 305.0,357.5" fill="#c0561f"/>
<polygon points="338.8,363.8 350.0,366.8 350.0,371.8 338.8,368.8" fill="#c0561f"/>
<polygon points="357.5,370.0 368.8,373.0 368.8,378.0 357.5,375.0" fill="#c0561f"/>
<polygon points="402.5,397.5 413.8,400.5 413.8,405.5 402.5,402.5" fill="#c0561f"/>
<polygon points="425.0,407.5 436.2,410.5 436.2,415.5 425.0,412.5" fill="#c0561f"/>
<polygon points="470.0,408.0 481.2,411.0 481.2,416.0 470.0,413.0" fill="#c0561f"/>
<polygon points="365.0,381.2 377.5,385.2 377.5,393.8 365.0,389.8" fill="#8fb89a"/>
<polygon points="377.5,387.5 390.0,391.5 390.0,400.0 377.5,396.0" fill="#8fb89a"/>
<polygon points="395.0,377.5 407.5,381.5 407.5,390.0 395.0,386.0" fill="#8fb89a"/>
<polygon points="440.0,392.5 452.5,396.5 452.5,405.0 440.0,401.0" fill="#8fb89a"/>
<polygon points="445.0,410.0 457.5,414.0 457.5,422.5 445.0,418.5" fill="#8fb89a"/>
<polygon points="1332.5,817.5 1357.5,805.0 1447.5,765.0 1522.5,790.0 1593.8,762.5 1645.0,780.0 1747.5,812.5 1725.0,830.0 1686.2,857.5 1665.0,890.0 1654.8,888.0 1554.0,858.8 1480.0,833.5 1448.5,825.2 1425.0,830.2 1387.5,840.0" fill="#7d7f8b"/>
<polygon points="1332.5,817.5 1357.5,805.0 1357.5,823.8 1335.0,822.5" fill="#e4e5e9"/>
<polygon points="1357.5,805.0 1447.5,765.0 1447.5,787.5 1357.5,823.8" fill="#787a88"/>
<polygon points="1357.5,823.8 1447.5,787.5 1522.5,812.5 1480.0,832.5 1410.0,845.0" fill="#7e808c"/>
<polygon points="1480.2,832.0 1524.0,813.5 1564.0,826.0 1594.2,813.5 1594.2,837.0 1627.8,850.5 1557.5,854.5" fill="#cbccd3"/>
<polygon points="1440.0,767.5 1448.8,766.2 1522.5,790.0 1522.5,812.5 1440.0,787.5" fill="#e4e5e9"/>
<polygon points="1440.0,780.0 1522.5,805.0 1522.5,812.5 1440.0,787.5" fill="#787a88"/>
<polygon points="1450.0,776.2 1475.0,783.8 1475.0,790.0 1450.0,782.5" fill="#c0561f"/>
<polygon points="1481.2,784.5 1491.2,787.5 1491.2,792.5 1481.2,789.5" fill="#c0561f"/>
<polygon points="1498.8,789.5 1510.0,793.0 1510.0,798.0 1498.8,794.5" fill="#c0561f"/>
<polygon points="1525.0,790.0 1593.8,762.5 1645.0,780.0 1565.0,802.5 1562.5,826.2 1525.0,812.5" fill="#e9eaed"/>
<polygon points="1547.5,777.0 1593.8,762.5 1645.0,780.0 1600.0,793.0" fill="#f2f2f4"/>
<polygon points="1525.0,790.0 1565.0,802.5 1562.5,826.2 1525.0,812.5" fill="#dcdde2"/>
<polygon points="1527.5,806.2 1550.0,813.8 1550.0,821.2 1527.5,813.8" fill="#c0561f"/>
<polygon points="1595.0,815.0 1627.5,802.5 1627.5,847.5 1595.0,835.0" fill="#e9eaed"/>
<polygon points="1595.0,815.0 1627.5,802.5 1630.0,795.0 1670.0,785.0 1670.0,795.0 1630.0,805.0 1627.5,847.5 1595.0,835.0" fill="#e3e4e8"/>
<polygon points="1630.0,795.0 1670.0,785.0 1747.5,812.5 1725.0,830.0 1686.2,860.0 1667.5,865.0 1630.0,852.5" fill="#dfe0e4"/>
<polygon points="1632.5,812.5 1668.8,803.8 1668.8,815.0 1632.5,825.0" fill="#7e808c"/>
<polygon points="1632.5,833.8 1668.8,825.0 1668.8,837.5 1632.5,847.5" fill="#7e808c"/>
<polygon points="1670.0,803.8 1710.0,815.0 1710.0,826.2 1670.0,815.0" fill="#7e808c"/>
<polygon points="1670.0,825.0 1705.0,836.2 1690.0,847.5 1670.0,840.0" fill="#7e808c"/>
<polygon points="1711.2,800.0 1725.0,803.8 1725.0,820.0 1711.2,816.2" fill="#787a88"/>
<polygon points="1687.5,795.0 1702.5,800.0 1702.5,812.5 1687.5,807.5" fill="#c0561f"/>
<polygon points="952.5,722.5 942.5,740.0 952.5,760.0 975.0,775.0 1030.0,783.8 1055.0,787.5 1100.0,782.5 1100.0,775.5 1055.0,778.0 1030.0,773.0 985.0,760.5 966.2,748.0 956.2,732.5" fill="#9b9da7"/>
<ellipse cx="948.2" cy="737.0" rx="4.2" ry="2.6" fill="#bfc1c9"/>
<ellipse cx="944.2" cy="743.0" rx="4.2" ry="2.6" fill="#b3b5be"/>
<ellipse cx="959.1" cy="745.4" rx="4.2" ry="2.6" fill="#bfc1c9"/>
<ellipse cx="955.1" cy="751.4" rx="4.2" ry="2.6" fill="#b3b5be"/>
<ellipse cx="970.0" cy="753.5" rx="4.2" ry="2.6" fill="#bfc1c9"/>
<ellipse cx="966.0" cy="759.5" rx="4.2" ry="2.6" fill="#b3b5be"/>
<ellipse cx="980.8" cy="761.0" rx="4.2" ry="2.6" fill="#bfc1c9"/>
<ellipse cx="976.8" cy="767.0" rx="4.2" ry="2.6" fill="#b3b5be"/>
<ellipse cx="991.7" cy="767.6" rx="4.2" ry="2.6" fill="#bfc1c9"/>
<ellipse cx="987.7" cy="773.6" rx="4.2" ry="2.6" fill="#b3b5be"/>
<ellipse cx="1002.6" cy="773.0" rx="4.2" ry="2.6" fill="#bfc1c9"/>
<ellipse cx="998.6" cy="779.0" rx="4.2" ry="2.6" fill="#b3b5be"/>
<ellipse cx="1013.4" cy="777.1" rx="4.2" ry="2.6" fill="#bfc1c9"/>
<ellipse cx="1009.4" cy="783.1" rx="4.2" ry="2.6" fill="#b3b5be"/>
<ellipse cx="1024.3" cy="779.7" rx="4.2" ry="2.6" fill="#bfc1c9"/>
<ellipse cx="1020.3" cy="785.7" rx="4.2" ry="2.6" fill="#b3b5be"/>
<ellipse cx="1035.2" cy="780.7" rx="4.2" ry="2.6" fill="#bfc1c9"/>
<ellipse cx="1031.2" cy="786.7" rx="4.2" ry="2.6" fill="#b3b5be"/>
<ellipse cx="1046.0" cy="780.8" rx="4.2" ry="2.6" fill="#bfc1c9"/>
<ellipse cx="1042.0" cy="786.8" rx="4.2" ry="2.6" fill="#b3b5be"/>
<ellipse cx="1056.9" cy="780.8" rx="4.2" ry="2.6" fill="#bfc1c9"/>
<ellipse cx="1052.9" cy="786.8" rx="4.2" ry="2.6" fill="#b3b5be"/>
<ellipse cx="1067.8" cy="780.8" rx="4.2" ry="2.6" fill="#bfc1c9"/>
<ellipse cx="1063.8" cy="786.8" rx="4.2" ry="2.6" fill="#b3b5be"/>
<ellipse cx="1078.6" cy="780.8" rx="4.2" ry="2.6" fill="#bfc1c9"/>
<ellipse cx="1074.6" cy="786.8" rx="4.2" ry="2.6" fill="#b3b5be"/>
<ellipse cx="1089.5" cy="780.8" rx="4.2" ry="2.6" fill="#bfc1c9"/>
<ellipse cx="1085.5" cy="786.8" rx="4.2" ry="2.6" fill="#b3b5be"/>
<polygon points="952.5,685.0 960.0,682.5 1008.8,704.5 1007.5,707.5 952.5,696.2" fill="#f4f4f6"/>
<polygon points="882.4,628.0 909.2,623.0 931.0,618.8 964.5,606.2 1004.7,590.3 1021.5,587.8 1080.0,602.9 1095.2,607.0 1095.2,647.3 1080.0,643.1 1021.5,627.2 991.3,640.6 974.5,647.3 931.0,661.0 909.2,667.7 882.4,672.8" fill="#e4e5e9"/>
<polygon points="882.4,628.0 909.2,623.0 909.2,667.7 882.4,672.8" fill="#dcdde2"/>
<polygon points="1021.5,587.8 1080.0,602.9 1095.2,607.0 1095.2,647.3 1080.0,643.1 1021.5,627.2" fill="#dddee3"/>
<polyline points="882.4,628.0 909.2,623.0 931.0,618.8 964.5,606.2 1004.7,590.3 1021.5,587.8" fill="none" stroke="#f6f6f8" stroke-width="1.5"/>
<polyline points="909.2,623.0 909.2,667.7" fill="none" stroke="#cfd0d6" stroke-width="1"/>
<polyline points="931.0,618.8 931.0,661.0" fill="none" stroke="#cfd0d6" stroke-width="1"/>
<polygon points="882.4,672.8 909.2,667.7 931.0,661.0 974.5,647.3 991.3,640.6 1021.5,627.2 1080.0,643.1 1095.2,647.3 1095.2,659.8 1077.5,655.0 1009.9,653.6 989.6,659.8 952.8,672.4 882.4,691.7" fill="#6e707d"/>
<polygon points="1301.2,745.0 1395.0,707.5 1422.5,720.0 1337.5,756.2" fill="#cfd0d6" stroke="#a83a3a" stroke-width="1"/>
<polygon points="1323.8,747.5 1330.0,741.2 1397.5,715.5 1405.0,719.5 1403.8,726.2 1336.2,753.0 1327.5,753.8" fill="#a0a2ac"/>
<polygon points="1330.0,741.2 1397.5,715.5 1405.0,719.5 1337.5,746.2" fill="#c3c5cc"/>
<polygon points="1686.2,860.0 1775.0,802.5 1790.0,807.5 1707.5,862.5" fill="#465d8a"/>
<polygon points="1707.5,862.5 1790.0,807.5 1815.0,820.0 1727.5,885.0" fill="#f4f4f6"/>
<polygon points="1790.0,807.5 1802.5,802.5 1830.0,815.0 1815.0,820.0" fill="#465d8a"/>
<polygon points="1727.5,885.0 1815.0,820.0 1830.0,815.0 1772.5,848.8 1730.0,890.0 1670.0,900.0 1657.5,890.0 1705.0,865.0" fill="#465d8a"/>
<polyline points="1727.5,828.8 1747.5,832.5 1762.5,840.0 1772.5,848.8" fill="none" stroke="#e3a52c" stroke-width="4"/>
<polyline points="1692.5,853.8 1710.0,860.0" fill="none" stroke="#f2f3f6" stroke-width="3"/>
<polyline points="1100.0,781.2 1170.0,770.5 1200.0,758.8 1220.0,758.8 1335.0,798.8 1337.5,805.0 1320.0,812.5 1255.0,838.8" fill="none" stroke="#d98a5a" stroke-width="1.6" stroke-dasharray="5 4"/>
<polyline points="1255.0,838.8 1240.0,843.8 1215.0,836.2 1195.0,840.0 1175.0,850.0 1125.0,853.8 1100.0,859.5" fill="none" stroke="#d98a5a" stroke-width="1.4" stroke-dasharray="5 4"/>
<polyline points="1325.0,883.0 1250.0,920.0" fill="none" stroke="#d98a5a" stroke-width="1.4" stroke-dasharray="5 4"/>
<polygon points="960.0,680.0 1015.0,660.0 1042.5,668.8 987.5,689.5" fill="#f6f3da" stroke="#e2c64a" stroke-width="1.2"/>
<polygon points="991.2,745.0 1045.0,727.5 1072.5,732.5 1017.5,753.8" fill="#f6f3da" stroke="#e2c64a" stroke-width="1.2"/>
<polyline points="493.8,566.2 607.5,530.0 667.5,511.8" fill="none" stroke="#a83a3a" stroke-width="1"/>
<polyline points="540.0,547.5 611.2,527.5 668.8,511.2 772.5,478.8 1020.0,556.2" fill="none" stroke="#a83a3a" stroke-width="1"/>
<polyline points="1000.0,553.8 1320.0,660.0 1292.5,668.8" fill="none" stroke="#a83a3a" stroke-width="1"/>
<polyline points="493.8,566.2 493.8,580.0 525.0,572.0 537.5,590.8 555.0,600.8 592.5,620.8 592.5,660.0" fill="none" stroke="#a83a3a" stroke-width="1"/>
<polyline points="593.8,533.8 592.5,660.0" fill="none" stroke="#a83a3a" stroke-width="1"/>
<polyline points="611.2,528.8 612.5,617.5 593.8,622.5" fill="none" stroke="#a83a3a" stroke-width="1"/>
<polyline points="611.2,593.8 740.0,557.5 767.5,567.5 870.0,601.2" fill="none" stroke="#a83a3a" stroke-width="1"/>
<polyline points="592.5,635.0 767.5,586.2" fill="none" stroke="#a83a3a" stroke-width="1"/>
<polyline points="776.2,660.0 881.2,626.2 881.2,713.8 862.5,725.0 862.5,782.0" fill="none" stroke="#a83a3a" stroke-width="1"/>
<polyline points="776.2,660.0 776.2,680.0 797.5,673.0 807.5,690.5 825.0,700.5 845.0,713.0 862.5,725.5" fill="none" stroke="#a83a3a" stroke-width="1"/>
<polyline points="1357.5,805.0 1447.5,765.0 1522.5,790.0 1593.8,762.5 1645.0,780.0 1747.5,812.5" fill="none" stroke="#a83a3a" stroke-width="1"/>
<polyline points="1522.5,790.0 1522.5,812.5 1440.0,787.5" fill="none" stroke="#a83a3a" stroke-width="1"/>
<polyline points="1630.0,795.0 1630.0,852.5" fill="none" stroke="#a83a3a" stroke-width="1"/>
<polyline points="1670.0,785.0 1668.8,865.0" fill="none" stroke="#a83a3a" stroke-width="1"/>
<polyline points="1710.0,800.0 1710.0,830.0" fill="none" stroke="#a83a3a" stroke-width="1"/>
<polyline points="1630.0,815.0 1670.0,803.8 1710.0,815.0" fill="none" stroke="#a83a3a" stroke-width="1"/>
<polyline points="1630.0,835.0 1670.0,825.0 1705.0,836.2" fill="none" stroke="#a83a3a" stroke-width="1"/>
<polyline points="213.8,347.0 275.0,332.0 503.8,408.8" fill="none" stroke="#a83a3a" stroke-width="0.8"/>
<polygon points="1387.5,840.0 1425.0,830.3 1448.5,825.2 1480.0,833.6 1554.0,858.8 1654.7,888.0 1671.0,897.3 1668.0,901.0 1651.3,895.5 1554.0,865.0 1480.0,840.5 1446.8,831.0 1420.0,835.0 1390.0,845.0" fill="#465d8a"/>
<polygon points="1241.2,844.5 1255.0,839.5 1330.0,864.5 1350.0,865.0 1420.0,850.0 1422.5,857.5 1350.0,877.0 1330.0,880.0 1240.0,857.0" fill="#a3a5af"/>
<ellipse cx="1250.0" cy="846.2" rx="4" ry="2.4" fill="#c3c5cd"/>
<ellipse cx="1247.5" cy="851.8" rx="4" ry="2.4" fill="#b7b9c2"/>
<ellipse cx="1259.5" cy="849.4" rx="4" ry="2.4" fill="#c3c5cd"/>
<ellipse cx="1257.0" cy="854.9" rx="4" ry="2.4" fill="#b7b9c2"/>
<ellipse cx="1269.0" cy="852.5" rx="4" ry="2.4" fill="#c3c5cd"/>
<ellipse cx="1266.5" cy="858.0" rx="4" ry="2.4" fill="#b7b9c2"/>
<ellipse cx="1278.5" cy="855.6" rx="4" ry="2.4" fill="#c3c5cd"/>
<ellipse cx="1276.0" cy="861.1" rx="4" ry="2.4" fill="#b7b9c2"/>
<ellipse cx="1288.0" cy="858.8" rx="4" ry="2.4" fill="#c3c5cd"/>
<ellipse cx="1285.5" cy="864.2" rx="4" ry="2.4" fill="#b7b9c2"/>
<ellipse cx="1297.5" cy="861.9" rx="4" ry="2.4" fill="#c3c5cd"/>
<ellipse cx="1295.0" cy="867.4" rx="4" ry="2.4" fill="#b7b9c2"/>
<ellipse cx="1307.0" cy="865.0" rx="4" ry="2.4" fill="#c3c5cd"/>
<ellipse cx="1304.5" cy="870.5" rx="4" ry="2.4" fill="#b7b9c2"/>
<ellipse cx="1316.5" cy="868.1" rx="4" ry="2.4" fill="#c3c5cd"/>
<ellipse cx="1314.0" cy="873.6" rx="4" ry="2.4" fill="#b7b9c2"/>
<ellipse cx="1326.0" cy="871.2" rx="4" ry="2.4" fill="#c3c5cd"/>
<ellipse cx="1323.5" cy="876.8" rx="4" ry="2.4" fill="#b7b9c2"/>
<ellipse cx="1340.0" cy="870.5" rx="4" ry="2.4" fill="#c3c5cd"/>
<ellipse cx="1350.0" cy="868.2" rx="4" ry="2.4" fill="#c3c5cd"/>
<ellipse cx="1360.0" cy="866.0" rx="4" ry="2.4" fill="#c3c5cd"/>
<ellipse cx="1370.0" cy="863.8" rx="4" ry="2.4" fill="#c3c5cd"/>
<ellipse cx="1380.0" cy="861.5" rx="4" ry="2.4" fill="#c3c5cd"/>
<ellipse cx="1390.0" cy="859.2" rx="4" ry="2.4" fill="#c3c5cd"/>
<ellipse cx="1400.0" cy="857.0" rx="4" ry="2.4" fill="#c3c5cd"/>
<ellipse cx="1410.0" cy="854.8" rx="4" ry="2.4" fill="#c3c5cd"/>
<polygon points="1373.3,596.7 1378.3,526.7 1406.7,516.7 1410.0,493.3 1440.0,511.7 1440.0,616.7 1460.0,630.0 1460.0,671.7 1400.0,663.3 1398.3,626.7" fill="#888994"/>
<polygon points="1440.0,511.7 1520.0,516.7 1526.7,543.3 1533.3,583.3 1536.7,616.7 1513.3,623.3 1513.3,676.7 1460.0,671.7 1460.0,630.0 1440.0,616.7" fill="#9c9da7"/>
<polygon points="1410.0,493.3 1436.7,486.0 1461.7,496.7 1461.7,505.0 1485.0,505.0 1518.3,511.7 1520.0,516.7 1440.0,511.7" fill="#b3b4bd"/>
<polygon points="1436.7,486.0 1461.7,490.0 1461.7,496.7" fill="#9c9da7"/>
<polygon points="1513.3,623.3 1536.7,616.7 1543.3,636.0 1543.3,656.0 1513.3,676.7" fill="#9a9ba6"/>
<polygon points="1460.0,620.0 1513.3,613.3 1538.3,617.3 1513.3,624.0 1460.0,630.0" fill="#b9bac3"/>
<polygon points="1413.3,638.3 1460.0,643.3 1460.0,668.3 1413.3,661.7" fill="#c7c8cf"/>
<polygon points="1460.0,630.0 1513.3,623.3 1513.3,676.7 1460.0,671.7" fill="#a5a6b0"/>
<polygon points="1378.3,526.7 1436.7,536.7 1438.3,596.7 1373.3,586.7" fill="#a9aab4"/>
<polygon points="1376.7,539.3 1437.3,546.7 1437.3,551.3 1376.0,544.0" fill="#c9cad1"/>
<polygon points="1376.7,554.0 1437.3,561.3 1437.3,566.0 1376.0,558.7" fill="#c9cad1"/>
<polygon points="1376.7,568.7 1437.3,576.0 1437.3,580.7 1376.0,573.3" fill="#c9cad1"/>
<polygon points="1376.7,582.7 1437.3,590.0 1437.3,594.7 1376.0,587.3" fill="#c9cad1"/>
<polygon points="1381.7,546.0 1433.3,552.7 1433.3,557.3 1381.7,550.7" fill="#6f8f74"/>
<polygon points="1381.7,560.7 1433.3,567.3 1433.3,572.0 1381.7,565.3" fill="#6f8f74"/>
<polygon points="1381.7,575.3 1433.3,582.0 1433.3,586.7 1381.7,580.0" fill="#6f8f74"/>
<polygon points="1378.3,526.7 1393.3,516.7 1436.7,526.7 1436.7,536.7" fill="#c2c3cb"/>
<circle cx="1393.3" cy="524.3" r="8.5" fill="#b9bac3"/>
<circle cx="1410.7" cy="514.0" r="5" fill="#b0b1ba"/>
<polygon points="1471.7,570.0 1518.3,571.7 1518.3,616.7 1471.7,613.3" fill="#5e7781"/>
<polygon points="1499.3,523.3 1512.7,524.0 1512.7,540.7 1499.3,540.0" fill="#5e7781"/>
<polygon points="1465.0,430.0 1482.7,430.0 1486.7,505.0 1460.0,505.0" fill="#858693"/>
<polygon points="1466.7,415.0 1480.7,415.0 1485.0,430.0 1461.7,430.0" fill="#9c9da7"/>
<polygon points="1465.0,430.0 1473.3,430.0 1472.7,505.0 1460.0,505.0" fill="#9c9da8"/>
<polygon points="1423.3,483.3 1461.7,471.7 1461.7,478.3 1426.7,489.3" fill="#8f909b"/>
<polygon points="1485.0,461.7 1526.7,447.3 1526.7,452.7 1485.0,468.3" fill="#9c9da7"/>
<polygon points="1460.0,448.3 1488.3,446.7 1488.3,454.0 1460.0,456.0" fill="#a5a6b0"/>
<polygon points="1430.7,417.3 1461.7,411.7 1493.3,407.3 1523.3,392.7 1524.0,396.7 1493.3,413.3 1461.7,419.3 1431.7,423.3" fill="#9c9da7"/>
<polygon points="1461.7,419.3 1488.3,417.3 1488.3,427.3 1461.7,428.7" fill="#8f909b"/>
<circle cx="1477.3" cy="395.0" r="13" fill="#a9aab4"/>
<circle cx="1457.7" cy="401.7" r="6" fill="#9c9da7"/>
<circle cx="1497.3" cy="390.0" r="5.5" fill="#9c9da7"/>
<polygon points="1498.3,361.7 1500.7,361.7 1500.7,406.7 1498.3,406.7" fill="#8f909b"/>
<polygon points="1490.0,370.0 1511.7,367.3 1511.7,372.7 1490.0,375.3" fill="#9c9da7"/>
<polygon points="1431.7,417.3 1432.7,417.3 1432.7,404.0 1431.7,404.0" fill="#7d7e89"/>
<polygon points="1443.3,415.0 1444.3,415.0 1444.3,403.3 1443.3,403.3" fill="#7d7e89"/>
<polygon points="1506.7,401.7 1507.7,401.7 1507.7,388.3 1506.7,388.3" fill="#7d7e89"/>
<polygon points="1518.3,396.7 1519.3,396.7 1519.3,384.0 1518.3,384.0" fill="#7d7e89"/>
<polygon points="1426.7,483.3 1427.7,483.3 1427.7,470.0 1426.7,470.0" fill="#7d7e89"/>
<polygon points="1446.7,476.7 1447.7,476.7 1447.7,461.7 1446.7,461.7" fill="#7d7e89"/>
<polygon points="1516.7,451.7 1517.7,451.7 1517.7,435.0 1516.7,435.0" fill="#7d7e89"/>
<polygon points="1505.0,456.0 1506.0,456.0 1506.0,442.7 1505.0,442.7" fill="#7d7e89"/>
<text font-size="27" fill="#dcdde3" transform="translate(1382.7 616.0) rotate(9) skewX(-10)" textLength="31" lengthAdjust="spacingAndGlyphs">78</text>
<polygon points="1518.3,620.0 1546.7,616.7 1546.7,640.0 1523.3,636.7" fill="#b3b4bd"/>
<polygon points="1553.3,616.7 1575.0,618.3 1575.0,631.7 1553.3,631.7" fill="#a5a6b0"/>
<polygon points="1550.0,631.7 1563.3,631.7 1563.3,663.3 1550.0,663.3" fill="#9c9da7"/>
<polygon points="1526.7,575.0 1546.7,578.3 1546.7,580.7 1526.7,578.3" fill="#8f909b"/>
<polygon points="563.8,395.9 573.9,393.1 587.3,394.2 607.4,399.3 635.9,395.9 645.1,393.1 648.5,400.1 658.0,408.5 640.9,413.0 637.6,418.9 615.8,421.4 597.3,416.0 587.3,413.5 580.6,402.1" fill="#e9ebf1"/>
<polygon points="587.3,413.5 597.3,416.0 615.8,421.4 607.4,410.2 597.3,405.1" fill="#b9bdca"/>
<polygon points="571.4,392.6 582.2,391.4 584.3,395.9 573.9,397.1" fill="#2e3038"/>
<polygon points="614.1,402.6 624.2,401.5 626.2,411.8 616.1,413.0" fill="#8b8e9b"/>
<polygon points="634.2,396.8 645.1,393.1 648.5,400.1 637.6,405.5" fill="#8b8e9b"/>
<circle cx="608.7" cy="425.6" r="3.3" fill="#17171a"/>
<circle cx="635.0" cy="419.6" r="2.0" fill="#17171a"/>
<polygon points="853.8,480.0 865.0,470.0 885.0,462.5 910.0,456.2 930.0,454.5 952.5,460.0 945.0,466.2 950.0,475.0 925.0,478.0 900.0,473.8 885.0,478.0 862.5,480.5" fill="#e9ebf1"/>
<polygon points="885.0,478.0 900.0,473.8 925.0,478.0 950.0,475.0 930.0,482.5 902.5,480.0" fill="#b9bdca"/>
<polygon points="865.0,467.0 876.2,463.8 883.8,466.2 871.2,472.0" fill="#2e3038"/>
<polygon points="907.0,455.5 912.0,437.5 917.5,437.5 920.5,454.2" fill="#8b8e9b"/>
<polygon points="922.0,460.5 937.5,444.5 941.5,446.0 930.5,461.8" fill="#2e3038"/>
<circle cx="877.5" cy="487.0" r="2.4" fill="#17171a"/>
<circle cx="927.5" cy="478.0" r="2.8" fill="#17171a"/>
<circle cx="877.0" cy="480.0" r="1.6" fill="#17171a"/>
<polygon points="936.2,506.2 950.0,495.0 970.0,487.5 990.0,480.5 1020.0,477.5 1033.8,485.5 1020.0,495.5 990.0,500.5 965.0,503.0 945.0,508.0" fill="#e9ebf1"/>
<polygon points="965.0,503.0 990.0,500.5 1020.0,495.5 1033.8,485.5 1030.0,500.0 1002.5,506.2 980.0,508.0" fill="#b9bdca"/>
<polygon points="945.5,493.8 956.2,490.0 965.0,493.0 952.5,499.5" fill="#2e3038"/>
<polygon points="987.5,478.0 991.5,462.5 998.5,462.5 1000.5,480.0" fill="#8b8e9b"/>
<polygon points="1002.5,485.5 1015.0,472.0 1020.5,473.5 1013.8,489.0" fill="#2e3038"/>
<circle cx="960.0" cy="513.8" r="2.4" fill="#17171a"/>
<circle cx="1010.0" cy="503.0" r="2.8" fill="#17171a"/>
<polygon points="1021.2,541.2 1032.5,533.8 1082.5,515.0 1117.5,507.5 1135.0,515.0 1117.5,520.0 1090.0,526.2 1050.0,538.8 1027.5,545.0" fill="#e9ebf1"/>
<polygon points="1042.5,510.0 1082.5,515.0 1117.5,522.5 1135.0,526.2 1105.0,530.0 1075.0,525.0 1050.0,517.5" fill="#e9ebf1"/>
<polygon points="1082.5,515.0 1117.5,507.5 1135.0,515.0 1117.5,520.0" fill="#b9bdca"/>
<polygon points="1047.5,521.2 1062.5,516.2 1072.5,518.8 1056.2,524.5" fill="#5560a0"/>
<polygon points="1083.8,513.0 1090.0,490.0 1098.0,489.5 1098.8,511.2" fill="#2e3038"/>
<polygon points="1096.2,517.5 1113.8,496.2 1118.0,497.5 1111.2,515.0" fill="#2e3038"/>
<circle cx="1052.5" cy="543.8" r="2.2" fill="#17171a"/>
<circle cx="1091.2" cy="536.2" r="2.2" fill="#17171a"/>
<circle cx="1076.2" cy="530.5" r="1.8" fill="#17171a"/>
<polygon points="1105.0,567.5 1116.2,560.0 1166.2,541.2 1201.2,533.8 1218.8,541.2 1201.2,546.2 1173.8,552.5 1133.8,565.0 1111.2,571.2" fill="#e9ebf1"/>
<polygon points="1126.2,536.2 1166.2,541.2 1201.2,548.8 1218.8,552.5 1188.8,556.2 1158.8,551.2 1133.8,543.8" fill="#e9ebf1"/>
<polygon points="1166.2,541.2 1201.2,533.8 1218.8,541.2 1201.2,546.2" fill="#b9bdca"/>
<polygon points="1131.2,547.5 1146.2,542.5 1156.2,545.0 1140.0,550.8" fill="#5560a0"/>
<polygon points="1167.5,539.2 1173.8,516.2 1181.8,515.8 1182.5,537.5" fill="#2e3038"/>
<polygon points="1180.0,543.8 1197.5,522.5 1201.8,523.8 1195.0,541.2" fill="#2e3038"/>
<circle cx="1136.2" cy="570.0" r="2.2" fill="#17171a"/>
<circle cx="1175.0" cy="562.5" r="2.2" fill="#17171a"/>
<circle cx="1160.0" cy="556.8" r="1.8" fill="#17171a"/>
<polygon points="1203.8,597.5 1215.0,590.0 1265.0,571.2 1300.0,563.8 1317.5,571.2 1300.0,576.2 1272.5,582.5 1232.5,595.0 1210.0,601.2" fill="#e9ebf1"/>
<polygon points="1225.0,566.2 1265.0,571.2 1300.0,578.8 1317.5,582.5 1287.5,586.2 1257.5,581.2 1232.5,573.8" fill="#e9ebf1"/>
<polygon points="1265.0,571.2 1300.0,563.8 1317.5,571.2 1300.0,576.2" fill="#b9bdca"/>
<polygon points="1230.0,577.5 1245.0,572.5 1255.0,575.0 1238.8,580.8" fill="#5560a0"/>
<polygon points="1266.2,569.2 1272.5,546.2 1280.5,545.8 1281.2,567.5" fill="#2e3038"/>
<polygon points="1278.8,573.8 1296.2,552.5 1300.5,553.8 1293.8,571.2" fill="#2e3038"/>
<circle cx="1235.0" cy="600.0" r="2.2" fill="#17171a"/>
<circle cx="1273.8" cy="592.5" r="2.2" fill="#17171a"/>
<circle cx="1258.8" cy="586.8" r="1.8" fill="#17171a"/>
<polygon points="880.0,591.2 895.0,588.8 915.0,592.5 935.0,602.5 950.0,602.5 962.5,592.5 970.0,593.8 960.0,606.2 950.0,610.0 930.0,616.2 910.0,620.0 902.5,616.2 910.0,605.0 895.0,597.5" fill="#e9ebf1"/>
<polygon points="910.0,605.0 930.0,616.2 910.0,620.0 902.5,616.2" fill="#b9bdca"/>
<polygon points="890.0,588.8 897.5,587.5 901.2,591.2 893.8,593.0" fill="#2e3038"/>
<polygon points="932.5,602.5 942.5,600.5 945.0,612.5 936.2,614.5" fill="#8b8e9b"/>
<polygon points="950.0,602.5 962.5,592.5 970.0,593.8 960.0,606.2" fill="#8b8e9b"/>
<polygon points="1031.2,710.0 1040.0,696.2 1055.0,700.0 1075.0,712.5 1112.5,707.5 1135.0,705.0 1161.2,710.0 1150.0,715.0 1127.5,718.8 1100.0,738.8 1082.5,738.8 1072.5,723.8 1052.5,725.0 1045.0,718.8" fill="#e9ebf1"/>
<polygon points="1072.5,723.8 1100.0,738.8 1082.5,738.8" fill="#b9bdca"/>
<polygon points="1040.0,696.2 1048.8,696.2 1065.0,710.0 1055.0,720.0 1045.0,718.8" fill="#8b8e9b"/>
<polygon points="1051.2,712.5 1065.0,710.0 1072.5,722.5 1055.0,723.8" fill="#2e3038"/>
<polygon points="1125.0,706.2 1140.0,705.0 1147.5,708.8 1130.0,710.5" fill="#2e3038"/>
<circle cx="1125.8" cy="731.0" r="3.0" fill="#17171a"/>
<circle cx="1073.8" cy="742.5" r="3.2" fill="#17171a"/>
<polygon points="1127.5,865.0 1145.0,857.5 1172.5,860.0 1205.0,847.5 1217.5,840.0 1240.0,840.0 1242.5,842.5 1220.0,855.0 1215.0,862.5 1222.5,882.5 1212.5,883.8 1187.5,876.2 1170.0,885.0 1157.5,883.8 1162.5,875.0 1142.5,870.0" fill="#e9ebf1"/>
<polygon points="1187.5,876.2 1170.0,885.0 1157.5,883.8 1162.5,875.0 1175.0,870.0" fill="#b9bdca"/>
<polygon points="1135.0,852.5 1146.2,848.0 1161.2,863.8 1150.0,867.5" fill="#8b8e9b"/>
<polygon points="1172.5,863.8 1182.5,860.0 1186.2,870.0 1175.0,873.8" fill="#2e3038"/>
<polygon points="1217.5,840.0 1230.0,838.0 1233.8,842.0 1222.5,844.5" fill="#2e3038"/>
<circle cx="1158.0" cy="877.0" r="3.0" fill="#17171a"/>
<circle cx="1190.5" cy="890.0" r="3.2" fill="#17171a"/>
<polygon points="1500.1,687.8 1516.0,683.9 1542.0,682.7 1573.9,685.3 1600.7,678.2 1614.1,677.2 1620.8,686.1 1630.0,686.9 1633.4,696.2 1619.1,695.6 1630.9,702.9 1619.1,711.7 1605.7,704.7 1582.2,714.9 1560.5,699.0 1537.0,694.0 1521.9,691.1" fill="#e9ebf1"/>
<polygon points="1560.5,699.0 1582.2,714.9 1605.7,704.7 1587.3,698.7" fill="#b9bdca"/>
<polygon points="1516.0,682.2 1540.3,682.7 1537.0,687.9 1520.2,688.6" fill="#2e3038"/>
<polygon points="1603.2,688.6 1614.1,672.7 1625.0,672.7 1621.6,683.9" fill="#8f919d"/>
<polygon points="1595.7,698.3 1603.2,688.6 1621.6,683.9 1619.1,697.8" fill="#666874"/>
<circle cx="1537.0" cy="707.0" r="2.6" fill="#17171a"/>
<circle cx="1594.5" cy="717.9" r="4.0" fill="#17171a"/>
<polygon points="1602.7,720.6 1618.6,716.8 1644.6,715.6 1676.4,718.1 1703.3,711.1 1716.7,710.1 1723.4,718.9 1732.6,719.8 1736.0,729.0 1721.7,728.5 1733.4,735.7 1721.7,744.6 1708.3,737.6 1684.8,747.8 1663.0,731.9 1639.6,726.8 1624.5,724.0" fill="#e9ebf1"/>
<polygon points="1663.0,731.9 1684.8,747.8 1708.3,737.6 1689.9,731.5" fill="#b9bdca"/>
<polygon points="1618.6,715.1 1642.9,715.6 1639.6,720.8 1622.8,721.5" fill="#2e3038"/>
<polygon points="1705.8,721.5 1716.7,705.5 1727.6,705.5 1724.2,716.8" fill="#8f919d"/>
<polygon points="1698.2,731.2 1705.8,721.5 1724.2,716.8 1721.7,730.7" fill="#666874"/>
<circle cx="1639.6" cy="739.9" r="2.6" fill="#17171a"/>
<circle cx="1697.1" cy="750.8" r="4.0" fill="#17171a"/>
<polygon points="1413.3,674.3 1428.0,668.3 1440.0,672.3 1440.0,676.3 1425.3,681.7 1413.3,679.0" fill="#e6c62e"/>
<polygon points="1413.3,674.3 1428.0,668.3 1440.0,672.3 1425.3,677.7" fill="#f3dc55"/>
<polygon points="1465.0,692.0 1479.7,686.0 1491.7,690.0 1491.7,694.0 1477.0,699.3 1465.0,696.7" fill="#e6c62e"/>
<polygon points="1465.0,692.0 1479.7,686.0 1491.7,690.0 1477.0,695.3" fill="#f3dc55"/>
<polygon points="1232.5,864.9 1245.6,859.5 1256.2,863.1 1256.2,866.7 1243.2,871.5 1232.5,869.1" fill="#e6c62e"/>
<polygon points="1232.5,864.9 1245.6,859.5 1256.2,863.1 1243.2,867.9" fill="#f3dc55"/>
<line x1="648.5" y1="314" x2="648.5" y2="394" stroke="#9a9ca6" stroke-width="3.2"/>
<line x1="647.6" y1="314" x2="647.6" y2="394" stroke="#c3c5cc" stroke-width="1.2"/>
<rect x="642" y="320" width="10" height="2.2" fill="#8f919c"/>
<rect x="644" y="341" width="8" height="2" fill="#8f919c"/>
<line x1="666" y1="352" x2="666" y2="396" stroke="#8f919c" stroke-width="1.2"/>
<line x1="741" y1="360" x2="741" y2="408" stroke="#8f919c" stroke-width="1.2"/>
<line x1="151" y1="255" x2="151" y2="313" stroke="#a5a7b0" stroke-width="1.1"/>
<line x1="218" y1="296" x2="218" y2="305" stroke="#8f919c" stroke-width="2"/>
<line x1="379.5" y1="318" x2="379.5" y2="345" stroke="#a5a7b0" stroke-width="1.1"/>
<line x1="1017" y1="432" x2="1017" y2="500" stroke="#8f919c" stroke-width="1"/>
<polygon points="353.3,338.3 393.3,344.3 480.0,371.0 478.3,376.7 393.3,354.0 356.7,345.7" fill="#c5c7cf"/>
<polygon points="496.7,378.3 553.3,381.7 575.0,393.3 503.3,384.0" fill="#c5c7cf"/>
<polygon points="206.7,303.3 223.3,300.7 226.7,305.3 210.0,307.3" fill="#b3b5be"/>
<polyline points="733.0,405.0 867.0,447.0 1020.0,497.0 1373.0,604.0" fill="none" stroke="#c9cbd2" stroke-width="1.2" stroke-dasharray="1.5 4"/>
<polyline points="1590.0,676.0 1685.0,699.0 1800.0,742.0" fill="none" stroke="#c9cbd2" stroke-width="1.2" stroke-dasharray="1.5 4"/>
<polyline points="540.0,386.0 647.0,391.0 690.0,392.5" fill="none" stroke="#c9cbd2" stroke-width="1.2" stroke-dasharray="1.5 4"/>
<rect x="1703.0" y="983.0" width="3.4" height="36.0" fill="#f1f2f5"/>
<rect x="1713.2" y="979.9" width="3.4" height="34.9" fill="#f1f2f5"/>
<rect x="1723.4" y="976.8" width="3.4" height="33.8" fill="#f1f2f5"/>
<rect x="1733.6" y="973.7" width="3.4" height="32.7" fill="#f1f2f5"/>
<rect x="1743.8" y="970.6" width="3.4" height="31.6" fill="#f1f2f5"/>
<rect x="1754.0" y="967.5" width="3.4" height="30.5" fill="#f1f2f5"/>
<rect x="1764.2" y="964.4" width="3.4" height="29.4" fill="#f1f2f5"/>
<polygon points="1686.7,966.7 1750.7,942.7 1765.3,949.3 1714.7,973.3" fill="#c0c2ca"/>
<polygon points="1847.5,780.0 1862.5,775.0 1865.0,785.0 1862.5,796.2 1850.0,796.2" fill="#b3b5be"/>
<polygon points="1850.0,787.5 1862.5,783.8 1862.5,796.2 1850.0,796.2" fill="#8f919c"/>
<polyline points="1815.0,772.5 1875.0,795.0 1877.5,810.0" fill="none" stroke="#d4d6dc" stroke-width="1"/>
<polygon points="1637.5,898.0 1660.0,890.5 1665.0,900.5 1655.0,908.0 1640.0,905.5" fill="#c0c2ca"/>
<polygon points="1722.5,903.0 1760.0,885.5 1762.5,898.0 1747.5,908.0 1725.0,908.0" fill="#c0c2ca"/>
<polygon points="1735.0,895.5 1795.0,893.0 1800.0,901.8 1765.0,905.5" fill="#b3b5be"/>
<polygon points="1557.5,884.2 1563.0,885.8 1563.0,887.8 1557.5,886.2" fill="#5f616c"/>
<polygon points="1565.5,886.5 1571.0,888.0 1571.0,890.0 1565.5,888.5" fill="#5f616c"/>
<polygon points="1573.5,888.8 1579.0,890.2 1579.0,892.2 1573.5,890.8" fill="#5f616c"/>
<polygon points="1581.5,891.0 1587.0,892.5 1587.0,894.5 1581.5,893.0" fill="#5f616c"/>
<polygon points="1561.0,881.0 1566.5,882.5 1566.5,884.5 1561.0,883.0" fill="#5f616c"/>
<polygon points="1569.0,883.2 1574.5,884.8 1574.5,886.8 1569.0,885.2" fill="#5f616c"/>
<polygon points="1577.0,885.5 1582.5,887.0 1582.5,889.0 1577.0,887.5" fill="#5f616c"/>
<polygon points="1585.0,887.8 1590.5,889.2 1590.5,891.2 1585.0,889.8" fill="#5f616c"/>
<polyline points="1526.7,583.3 1546.7,576.7 1543.3,586.7" fill="none" stroke="#8f919c" stroke-width="1"/>
<polyline points="1525.0,630.0 1540.0,625.0" fill="none" stroke="#8f919c" stroke-width="1"/>
<line x1="372" y1="247" x2="462" y2="357" stroke="#141a5c" stroke-width="1.5"/>
<line x1="754" y1="295" x2="712.5" y2="402.5" stroke="#1d6a38" stroke-width="1.5"/>
<line x1="955" y1="251" x2="867.5" y2="436.5" stroke="#1d6a38" stroke-width="1.5"/>
<line x1="1106.7" y1="390" x2="990" y2="663" stroke="#1d6a38" stroke-width="1.5"/>
<line x1="1378" y1="344" x2="1436.7" y2="450.7" stroke="#141a5c" stroke-width="1.5"/>
<line x1="1662" y1="347" x2="1532.7" y2="496.4" stroke="#141a5c" stroke-width="1.5"/>
<line x1="1655.4" y1="447.8" x2="1511" y2="531" stroke="#141a5c" stroke-width="1.5"/>
<line x1="1644.4" y1="571.3" x2="1550.2" y2="616.4" stroke="#141a5c" stroke-width="1.5"/>
<line x1="1765.8" y1="592.3" x2="1372" y2="722" stroke="#141a5c" stroke-width="1.5"/>
<line x1="362.7" y1="592.7" x2="271.7" y2="701.7" stroke="#141a5c" stroke-width="1.5"/>
<line x1="640" y1="663" x2="592.5" y2="881" stroke="#c4832b" stroke-width="1.5"/>
<line x1="748" y1="788" x2="826.7" y2="888.5" stroke="#c4832b" stroke-width="1.5"/>
<line x1="925.7" y1="770" x2="826.7" y2="888.5" stroke="#c4832b" stroke-width="1.5"/>
<line x1="921.7" y1="666" x2="1054.5" y2="974.5" stroke="#141a5c" stroke-width="1.5"/>
<line x1="1016.7" y1="742.7" x2="1210" y2="1020" stroke="#141a5c" stroke-width="1.5"/>
<line x1="1335" y1="839.7" x2="1680" y2="1053.7" stroke="#141a5c" stroke-width="1.5"/>
<line x1="1249" y1="901.7" x2="1455.5" y2="1041" stroke="#141a5c" stroke-width="1.5"/>
<text x="381" y="110" fill="#2d3a94" font-size="40.5" text-anchor="middle" word-spacing="5">Enhanced Ship</text>
<rect x="240" y="112.9" width="281" height="2.2" fill="#2d3a94"/>
<text x="380.8" y="156.5" fill="#2d3a94" font-size="40.5" text-anchor="middle" word-spacing="6">Self Defense</text>
<rect x="262" y="159.20000000000002" width="238" height="2.2" fill="#2d3a94"/>
<text x="961" y="110" fill="#1b7a3c" font-size="40.5" text-anchor="middle" word-spacing="7">Improved Weapon</text>
<rect x="791" y="113.4" width="338" height="2.2" fill="#1b7a3c"/>
<text x="960.5" y="156.3" fill="#1b7a3c" font-size="40.5" text-anchor="middle" word-spacing="4.2">&amp; Material Handling</text>
<rect x="779" y="159.9" width="362" height="2.2" fill="#1b7a3c"/>
<text x="1508.4" y="215.2" fill="#2d3a94" font-size="40.5" text-anchor="middle" word-spacing="6.2">Integrated Island</text>
<rect x="1354" y="218.20000000000002" width="307.5" height="2.2" fill="#2d3a94"/>
<text x="277.6" y="802.2" fill="#2d3a94" font-size="41.1" text-anchor="middle">Improved</text>
<rect x="192" y="805.6" width="170.60000000000002" height="2.2" fill="#2d3a94"/>
<text x="278.3" y="848.7" fill="#2d3a94" font-size="40.9" text-anchor="middle">Survivability</text>
<rect x="168.3" y="851.5" width="218.7" height="2.2" fill="#2d3a94"/>
<text x="707" y="1048.6" fill="#c4832b" font-size="41.0" text-anchor="middle" word-spacing="3">New Propulsion/Electric</text>
<text x="707" y="1095" fill="#c4832b" font-size="41.0" text-anchor="middle">Plant</text>
<text x="335.7" y="211.3" fill="#2d3a94" font-size="20.2" text-anchor="middle">Evolved</text>
<text x="335.7" y="234.60000000000002" fill="#2d3a94" font-size="20.2" text-anchor="middle">Sea Sparrow</text>
<text x="335.7" y="257.90000000000003" fill="#2d3a94" font-size="20.2" text-anchor="middle">Missile</text>
<text x="758" y="234.7" fill="#1b7a3c" font-size="20.6" text-anchor="middle">Outboard</text>
<text x="758" y="257.7" fill="#1b7a3c" font-size="20.6" text-anchor="middle">Weapons</text>
<text x="758" y="280.7" fill="#1b7a3c" font-size="20.6" text-anchor="middle">Elevators</text>
<text x="979.3" y="240.9" fill="#1b7a3c" font-size="20.2" text-anchor="middle">Heavy Underway Replenishment</text>
<text x="1122.8" y="328.5" fill="#1b7a3c" font-size="20.8" text-anchor="middle">Double Height</text>
<text x="1122.8" y="351.5" fill="#1b7a3c" font-size="20.8" text-anchor="middle">Magazines &amp;</text>
<text x="1122.8" y="374.5" fill="#1b7a3c" font-size="20.8" text-anchor="middle">Storerooms</text>
<text x="1372" y="300.3" fill="#2d3a94" font-size="21.0" text-anchor="middle">Composite</text>
<text x="1372" y="323.3" fill="#2d3a94" font-size="21.0" text-anchor="middle">Mast</text>
<text x="1673" y="281.7" fill="#2d3a94" font-size="20.8" text-anchor="middle">Smaller Island</text>
<text x="1673" y="304.59999999999997" fill="#2d3a94" font-size="20.8" text-anchor="middle">Re-Positioned</text>
<text x="1673" y="327.5" fill="#2d3a94" font-size="20.8" text-anchor="middle">Aft &amp; Outboard</text>
<text x="1691.2" y="433.3" fill="#2d3a94" font-size="20.8" text-anchor="middle">MFR/VSR Radars</text>
<text x="1649.7" y="517.6" fill="#2d3a94" font-size="20.9" text-anchor="middle">Joint Precision</text>
<text x="1649.7" y="541.0" fill="#2d3a94" font-size="20.9" text-anchor="middle">Approach and Landing</text>
<text x="1649.7" y="564.4" fill="#2d3a94" font-size="20.9" text-anchor="middle">System</text>
<text x="1820.8" y="566.9" fill="#2d3a94" font-size="20.6" text-anchor="middle">Advanced</text>
<text x="1820.8" y="589.9" fill="#2d3a94" font-size="20.6" text-anchor="middle">Arresting</text>
<text x="1820.8" y="612.9" fill="#2d3a94" font-size="20.6" text-anchor="middle">Gear</text>
<text x="270.5" y="724.0" fill="#2d3a94" font-size="20.2" text-anchor="middle">Underwater</text>
<text x="270.5" y="746.7" fill="#2d3a94" font-size="20.2" text-anchor="middle">Protection</text>
<text x="573.5" y="903.7" fill="#c4832b" font-size="20.9" text-anchor="middle">Zonal Electrical</text>
<text x="573.5" y="926.6" fill="#c4832b" font-size="20.9" text-anchor="middle">Distribution</text>
<text x="573.5" y="949.5" fill="#c4832b" font-size="20.9" text-anchor="middle">System</text>
<text x="841" y="910" fill="#c4832b" font-size="20.6" text-anchor="middle">New</text>
<text x="841" y="933" fill="#c4832b" font-size="20.6" text-anchor="middle">Propulsion</text>
<text x="841" y="956" fill="#c4832b" font-size="20.6" text-anchor="middle">Plants</text>
<text x="706" y="1001" fill="#c4832b" font-size="20.95" text-anchor="middle">All Electric Aux Services</text>
<text x="1064.7" y="1002.5" fill="#2d3a94" font-size="21.0" text-anchor="middle">Hangar Bays (2)</text>
<text x="1223.4" y="1041.7" fill="#2d3a94" font-size="20.2" text-anchor="middle">4 ElectroMagnetic Aircraft</text>
<text x="1213" y="1064.6" fill="#2d3a94" font-size="20.2" text-anchor="middle">Launch System (EMALS)</text>
<text x="1493" y="1064.6" fill="#2d3a94" font-size="20.2" text-anchor="middle">3 Aircraft Elevators</text>
<text x="1754" y="1064.6" fill="#2d3a94" font-size="20.2" text-anchor="middle">Enhanced Flight Deck</text>
</svg>
</body></html>
